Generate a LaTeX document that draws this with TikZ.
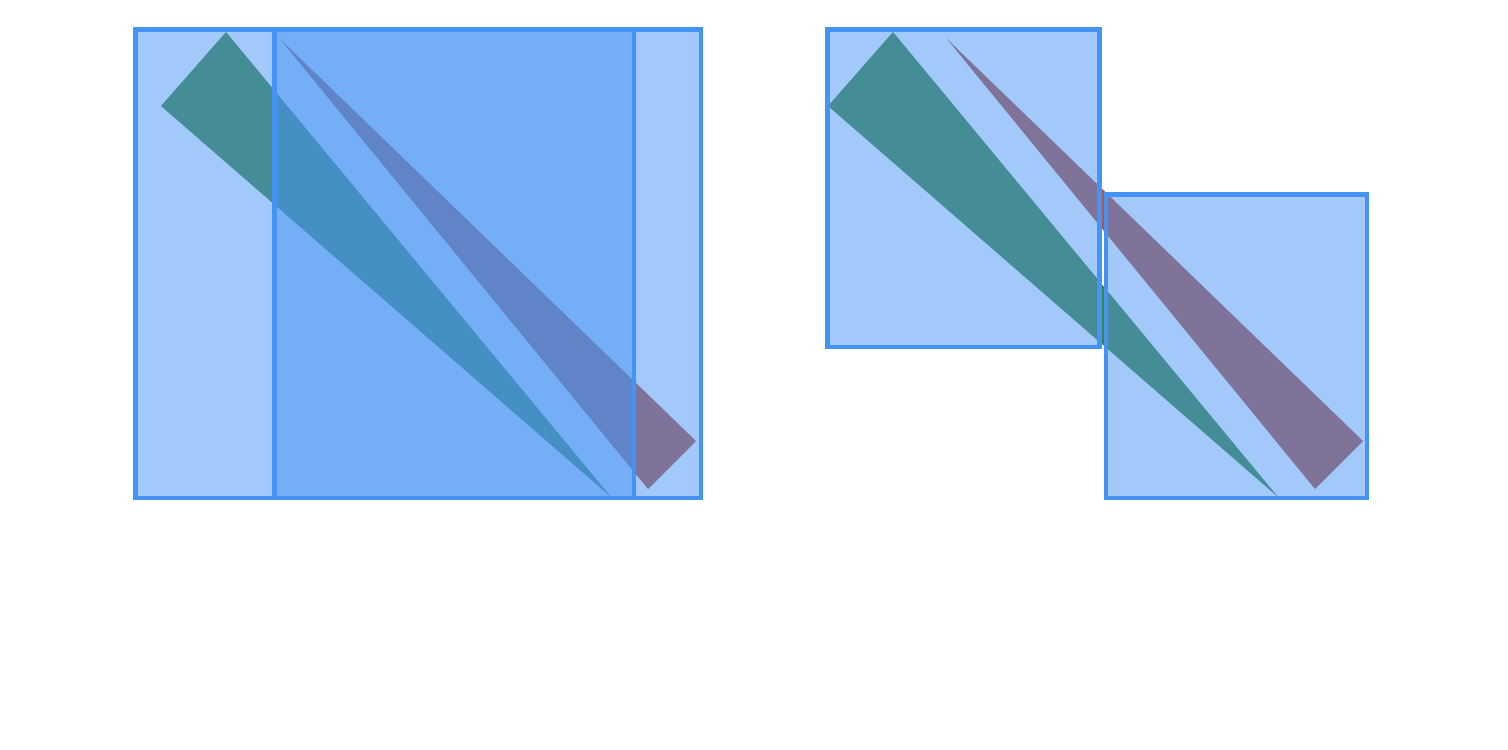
\documentclass[tikz,border=0pt]{standalone}
\usepackage{tikz}

\definecolor{boxblue}{RGB}{69,148,245}
\definecolor{trigreen}{RGB}{67,132,55}
\definecolor{trired}{RGB}{187,82,63}

\begin{document}
\begin{tikzpicture}[x=0.02cm,y=-0.02cm,
  green tri/.style={fill=trigreen},
  red tri/.style={fill=trired},
  bound box/.style={draw=boxblue,line width=2.6pt,fill=boxblue,fill opacity=0.5}]

  \useasboundingbox (0,0) rectangle (1508,750);

  % left pair: boxes overlap
  \fill[green tri] (226,32) -- (161,106) -- (611,497) -- cycle;
  \fill[red tri]   (280,39) -- (696,441) -- (648,489) -- cycle;
  \path[bound box] (135.3,29.5) rectangle (634.2,497.8);
  \path[bound box] (274.6,29.5) rectangle (700.8,497.8);

  % right pair: boxes apart
  \fill[green tri] (893,32) -- (828,106) -- (1278,497) -- cycle;
  \fill[red tri]   (947,39) -- (1363,441) -- (1315,489) -- cycle;
  \path[bound box] (827.5,29.7) rectangle (1099.7,347);
  \path[bound box] (1105.8,194.3) rectangle (1366.8,497.8);

\end{tikzpicture}
\end{document}
